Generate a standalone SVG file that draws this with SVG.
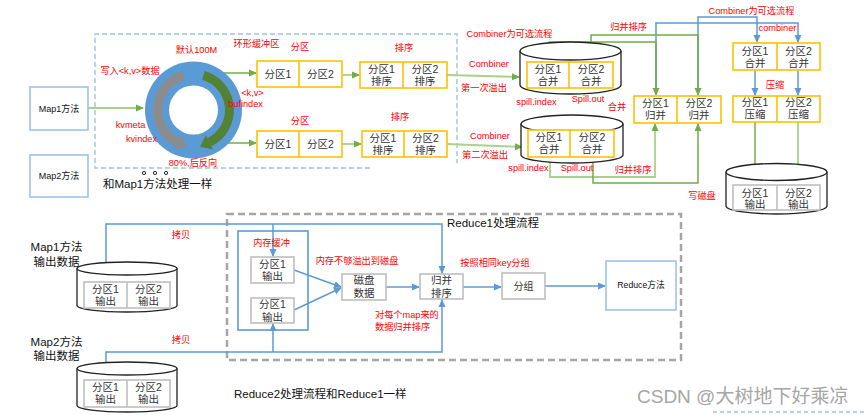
<svg xmlns="http://www.w3.org/2000/svg" width="864" height="415" viewBox="0 0 864 415">
<defs>
<style>
text{font-family:"Liberation Sans","Noto Sans CJK SC",sans-serif;}
.red{fill:#ff0000;font-size:9.2px;}
.bt{fill:#333;font-size:10.5px;text-anchor:middle;}
.blk{fill:#111;font-size:11.5px;}
.yb{fill:#fff;stroke:#ffc000;stroke-width:1.6;}
.gb{fill:#fff;stroke:#bfbfbf;stroke-width:1.6;}
.lb{fill:#fff;stroke:#9dc3e6;stroke-width:1.6;}
.cyl{fill:#fff;stroke:#222;stroke-width:1.3;}
.gl{fill:none;stroke:#70ad47;stroke-width:1.5;marker-end:url(#ag);}
.gl2{fill:none;stroke:#a9d18e;stroke-width:1.8;marker-end:url(#ag);}
.bl{fill:none;stroke:#5b9bd5;stroke-width:1.5;}
.bla{fill:none;stroke:#5b9bd5;stroke-width:1.5;marker-end:url(#ab);}
.sp{stroke:#ffc000;stroke-width:1.6;}
.sg{stroke:#bfbfbf;stroke-width:1.6;}
</style>
<marker id="ag" markerWidth="8" markerHeight="8" refX="7" refY="4" orient="auto" markerUnits="userSpaceOnUse">
<path d="M0,0.5 L8,4 L0,7.5 Z" fill="#70ad47"/>
</marker>
<marker id="ab" markerWidth="8" markerHeight="8" refX="7" refY="4" orient="auto" markerUnits="userSpaceOnUse">
<path d="M0,0.5 L8,4 L0,7.5 Z" fill="#5b9bd5"/>
</marker>
</defs>
<rect width="864" height="415" fill="#fff"/>

<!-- Map side dashed frame -->
<path d="M370,168 H95 V34 H457 V163" fill="none" stroke="#9dc3e6" stroke-width="1.4" stroke-dasharray="5,3"/>

<!-- Reduce dashed frame -->
<rect x="227" y="214" width="454" height="146" fill="none" stroke="#a6a6a6" stroke-width="2.5" stroke-dasharray="7,4"/>

<g id="connectors">
<!-- map to ring -->
<line x1="88" y1="108" x2="143" y2="108" class="gl2"/>
<line x1="208" y1="73" x2="256" y2="73" class="gl"/>
<line x1="227" y1="143" x2="256" y2="143" class="gl"/>
<line x1="342" y1="75" x2="359" y2="75" class="gl2"/>
<line x1="342" y1="144" x2="361" y2="144" class="gl2"/>
<line x1="447" y1="75" x2="519" y2="77" class="gl2"/>
<line x1="447" y1="144" x2="522" y2="147" class="gl2"/>
<!-- blue combiner routes -->
<path d="M656,92 V23 H798 V42" class="bla"/>
<path d="M698,92 V17 H757 V42" class="bla"/>
<line x1="755" y1="70" x2="755" y2="95" class="bla"/>
<line x1="798" y1="70" x2="798" y2="95" class="bla"/>
<!-- green merge routes -->
<path d="M549,62 V42 H656 V95" class="gl"/>
<path d="M591,62 V35 H698 V95" class="gl"/>
<path d="M550,157 V177 H655 V124" class="gl2"/>
<path d="M593,157 V183 H698 V124" class="gl"/>
<line x1="755" y1="122" x2="755" y2="185" class="gl"/>
<line x1="798" y1="122" x2="798" y2="185" class="gl2"/>
<!-- copy routes -->
<path d="M106,283 V224 H442 V273" class="bla"/>
<line x1="273" y1="224" x2="273" y2="256" class="bla"/>
<path d="M106,380 V352 H442 V300" class="bla"/>
<line x1="273" y1="352" x2="273" y2="324" class="bla"/>
<line x1="294" y1="270" x2="341" y2="287" class="bla"/>
<line x1="294" y1="310" x2="341" y2="288" class="bla"/>
<line x1="386" y1="287" x2="419" y2="287" class="bla"/>
<line x1="463" y1="287" x2="501" y2="287" class="bla"/>
<line x1="545" y1="286" x2="605" y2="286" class="bla"/>
</g>

<g id="map1">
<rect x="30" y="87" width="58" height="43" class="lb"/>
<text x="59" y="112" style="fill:#111;font-size:9px;text-anchor:middle">Map1方法</text>
</g>
<g id="map2">
<rect x="30" y="155" width="58" height="42" class="lb"/>
<text x="59" y="179" style="fill:#111;font-size:9px;text-anchor:middle">Map2方法</text>
</g>

<g id="ringbuffer">
<circle cx="193.5" cy="110" r="48.5" fill="#5b9bd5"/>
<circle cx="193.5" cy="110" r="24.5" fill="#fff"/>
<path d="M183.5,75.4 A36,36 0 0 0 177.5,142.2" fill="none" stroke="#8c8c8c" stroke-width="9"/>
<polygon points="187,146.6 173.9,149.4 181.1,135" fill="#8c8c8c"/>
<path d="M203.5,75.4 A36,36 0 0 1 209.5,142.2" fill="none" stroke="#548235" stroke-width="9"/>
<polygon points="200,146.7 213.1,149.4 205.9,135" fill="#548235"/>
</g>

<g id="ring-labels">
<text x="196.5" y="53" class="red" text-anchor="middle">默认100M</text>
<text x="256.5" y="47" class="red" text-anchor="middle">环形缓冲区</text>
<text x="130" y="74" class="red" text-anchor="middle">写入&lt;k,v&gt;数据</text>
<text x="252.5" y="96" class="red" text-anchor="middle">&lt;k,v&gt;</text>
<text x="245.5" y="107" class="red" text-anchor="middle">bufindex</text>
<text x="130.5" y="128" class="red" text-anchor="middle">kvmeta</text>
<text x="141.5" y="142" class="red" text-anchor="middle">kvindex</text>
<text x="193" y="166" class="red" text-anchor="middle">80%,后反向</text>
</g>

<g id="same-note">
<circle cx="144" cy="173" r="1.6" fill="none" stroke="#111" stroke-width="0.9"/>
<circle cx="155" cy="173" r="1.6" fill="none" stroke="#111" stroke-width="0.9"/>
<circle cx="166" cy="173" r="1.6" fill="none" stroke="#111" stroke-width="0.9"/>
<text x="103" y="188" class="blk">和Map1方法处理一样</text>
</g>

<g id="partition1">
<rect x="257" y="61" width="85" height="26" class="yb"/>
<line x1="299" y1="61" x2="299" y2="87" class="sp"/>
<text x="278" y="78" class="bt">分区1</text>
<text x="320.5" y="78" class="bt">分区2</text>
<text x="300" y="50" class="red" text-anchor="middle">分区</text>
</g>
<g id="partition2">
<rect x="257" y="131" width="85" height="26" class="yb"/>
<line x1="299" y1="131" x2="299" y2="157" class="sp"/>
<text x="278" y="148" class="bt">分区1</text>
<text x="320.5" y="148" class="bt">分区2</text>
<text x="300" y="124" class="red" text-anchor="middle">分区</text>
</g>
<g id="sort1">
<rect x="360" y="62" width="87" height="26" class="yb"/>
<line x1="403" y1="62" x2="403" y2="88" class="sp"/>
<text x="381.5" y="72.5" class="bt">分区1</text>
<text x="381.5" y="84.5" class="bt">排序</text>
<text x="425" y="72.5" class="bt">分区2</text>
<text x="425" y="84.5" class="bt">排序</text>
<text x="404" y="51" class="red" text-anchor="middle">排序</text>
</g>
<g id="sort2">
<rect x="362" y="131" width="85" height="26" class="yb"/>
<line x1="404" y1="131" x2="404" y2="157" class="sp"/>
<text x="383" y="141.5" class="bt">分区1</text>
<text x="383" y="154" class="bt">排序</text>
<text x="425.5" y="141.5" class="bt">分区2</text>
<text x="425.5" y="154" class="bt">排序</text>
<text x="400" y="120" class="red" text-anchor="middle">排序</text>
</g>

<g id="spill1">
<path d="M520,51 V85 A50.5,9 0 0 0 621,85 V51" class="cyl"/>
<ellipse cx="570.5" cy="51" rx="50.5" ry="9" class="cyl"/>
<rect x="527" y="62" width="86" height="26" class="yb"/>
<line x1="569" y1="62" x2="569" y2="88" class="sp"/>
<text x="548" y="72.5" class="bt">分区1</text>
<text x="548" y="84.5" class="bt">合并</text>
<text x="591" y="72.5" class="bt">分区2</text>
<text x="591" y="84.5" class="bt">合并</text>
</g>
<g id="spill2">
<path d="M521,124 V155 A51,8 0 0 0 623,155 V124" class="cyl"/>
<ellipse cx="572" cy="124" rx="51" ry="9" class="cyl"/>
<rect x="528" y="130" width="86" height="27" class="yb"/>
<line x1="570" y1="130" x2="570" y2="157" class="sp"/>
<text x="549" y="140.5" class="bt">分区1</text>
<text x="549" y="152.5" class="bt">合并</text>
<text x="592" y="140.5" class="bt">分区2</text>
<text x="592" y="152.5" class="bt">合并</text>
</g>

<g id="spill-labels">
<text x="509.5" y="36.5" class="red" text-anchor="middle">Combiner为可选流程</text>
<text x="489" y="67" class="red" text-anchor="middle">Combiner</text>
<text x="484" y="91" class="red" text-anchor="middle">第一次溢出</text>
<text x="490" y="139" class="red" text-anchor="middle">Combiner</text>
<text x="485" y="158" class="red" text-anchor="middle">第二次溢出</text>
<text x="536.5" y="104.5" class="red" text-anchor="middle">spill.index</text>
<text x="588" y="102" class="red" text-anchor="middle">Spill.out</text>
<text x="528.5" y="171" class="red" text-anchor="middle">spill.index</text>
<text x="577" y="171" class="red" text-anchor="middle">Spill.out</text>
<text x="617" y="110" class="red" text-anchor="middle">合并</text>
<text x="628.5" y="30" class="red" text-anchor="middle">归并排序</text>
<text x="633" y="173" class="red" text-anchor="middle">归并排序</text>
<text x="751.5" y="14" class="red" text-anchor="middle">Combiner为可选流程</text>
<text x="777.5" y="31" class="red" text-anchor="middle">combiner</text>
<text x="775" y="88" class="red" text-anchor="middle">压缩</text>
<text x="702" y="199" class="red" text-anchor="middle">写磁盘</text>
</g>

<g id="merge">
<rect x="634" y="96" width="87" height="27" class="yb"/>
<line x1="677" y1="96" x2="677" y2="123" class="sp"/>
<text x="655.5" y="106.5" class="bt">分区1</text>
<text x="655.5" y="118.5" class="bt">归并</text>
<text x="699" y="106.5" class="bt">分区2</text>
<text x="699" y="118.5" class="bt">归并</text>
</g>
<g id="combine">
<rect x="733" y="43" width="87" height="27" class="yb"/>
<line x1="777" y1="43" x2="777" y2="70" class="sp"/>
<text x="755" y="54.5" class="bt">分区1</text>
<text x="755" y="66.5" class="bt">合并</text>
<text x="798.5" y="54.5" class="bt">分区2</text>
<text x="798.5" y="66.5" class="bt">合并</text>
</g>
<g id="compress">
<rect x="733" y="96" width="87" height="26" class="yb"/>
<line x1="777" y1="96" x2="777" y2="122" class="sp"/>
<text x="755" y="105.5" class="bt">分区1</text>
<text x="755" y="117.5" class="bt">压缩</text>
<text x="798.5" y="105.5" class="bt">分区2</text>
<text x="798.5" y="117.5" class="bt">压缩</text>
</g>
<g id="output">
<path d="M726,172 V206 A50.5,8 0 0 0 827,206 V172" class="cyl"/>
<ellipse cx="776.5" cy="172" rx="50.5" ry="8.5" class="cyl"/>
<rect x="733" y="185" width="87" height="25" class="gb"/>
<line x1="777" y1="185" x2="777" y2="210" class="sg"/>
<text x="755" y="196.5" class="bt">分区1</text>
<text x="755" y="208" class="bt">输出</text>
<text x="798.5" y="196.5" class="bt">分区2</text>
<text x="798.5" y="208" class="bt">输出</text>
</g>

<!-- bottom section -->
<g id="map1-output">
<text x="56.5" y="251" class="blk" text-anchor="middle">Map1方法</text>
<text x="56.5" y="266" class="blk" text-anchor="middle">输出数据</text>
<path d="M77,268.5 V305.5 A50,6.5 0 0 0 177,305.5 V268.5" class="cyl"/>
<ellipse cx="127" cy="268.5" rx="50" ry="6.5" class="cyl"/>
<rect x="84" y="282" width="86" height="26" class="gb"/>
<line x1="127" y1="282" x2="127" y2="308" class="sg"/>
<text x="105.5" y="293" class="bt">分区1</text>
<text x="105.5" y="305" class="bt">输出</text>
<text x="148.5" y="293" class="bt">分区2</text>
<text x="148.5" y="305" class="bt">输出</text>
</g>
<g id="map2-output">
<text x="56.5" y="346" class="blk" text-anchor="middle">Map2方法</text>
<text x="56.5" y="360" class="blk" text-anchor="middle">输出数据</text>
<path d="M77,368.5 V405.5 A50,6.5 0 0 0 177,405.5 V368.5" class="cyl"/>
<ellipse cx="127" cy="368.5" rx="50" ry="6.5" class="cyl"/>
<rect x="84" y="380" width="86" height="27" class="gb"/>
<line x1="127" y1="380" x2="127" y2="407" class="sg"/>
<text x="105.5" y="391" class="bt">分区1</text>
<text x="105.5" y="403" class="bt">输出</text>
<text x="148.5" y="391" class="bt">分区2</text>
<text x="148.5" y="403" class="bt">输出</text>
</g>

<g id="membuffer">
<rect x="238" y="231" width="70" height="99" fill="none" stroke="#5b9bd5" stroke-width="1.6"/>
<text x="271.5" y="246" class="red" text-anchor="middle">内存缓冲</text>
</g>
<g id="buf1">
<rect x="251" y="257" width="43" height="26" class="gb"/>
<text x="272.5" y="267.5" class="bt">分区1</text>
<text x="272.5" y="280" class="bt">输出</text>
</g>
<g id="buf2">
<rect x="251" y="298" width="43" height="25" class="gb"/>
<text x="272.5" y="308" class="bt">分区1</text>
<text x="272.5" y="320.5" class="bt">输出</text>
</g>
<g id="disk">
<rect x="342" y="274" width="44" height="26" class="gb"/>
<text x="364" y="284" class="bt">磁盘</text>
<text x="364" y="296.5" class="bt">数据</text>
</g>
<g id="mergesort">
<rect x="420" y="274" width="43" height="25" class="gb"/>
<text x="441.5" y="284" class="bt">归并</text>
<text x="441.5" y="296.5" class="bt">排序</text>
</g>
<g id="group">
<rect x="502" y="273" width="43" height="26" class="gb"/>
<text x="523.5" y="289.5" class="bt" style="font-size:10px">分组</text>
</g>
<g id="reduce">
<rect x="606" y="261" width="70" height="49" class="lb"/>
<text x="641" y="288" style="fill:#111;font-size:8.7px;text-anchor:middle">Reduce方法</text>
</g>

<g id="reduce-labels">
<text x="493" y="227" class="blk" text-anchor="middle">Reduce1处理流程</text>
<text x="181" y="238" class="red" text-anchor="middle">拷贝</text>
<text x="181" y="343" class="red" text-anchor="middle">拷贝</text>
<text x="357" y="264" class="red" text-anchor="middle">内存不够溢出到磁盘</text>
<text x="495" y="266" class="red" text-anchor="middle">按照相同key分组</text>
<text x="375" y="318" class="red">对每个map来的</text>
<text x="375" y="330" class="red">数据归并排序</text>
<text x="234" y="398" class="blk">Reduce2处理流程和Reduce1一样</text>
</g>

<g id="watermark">
<text x="637" y="403" style="fill:#a6a6a6;font-size:19px">CSDN @大树地下好乘凉</text>
<line x1="713" y1="412" x2="864" y2="412" stroke="#9dc3e6" stroke-width="1.3" stroke-dasharray="4,3"/>
</g>
</svg>
